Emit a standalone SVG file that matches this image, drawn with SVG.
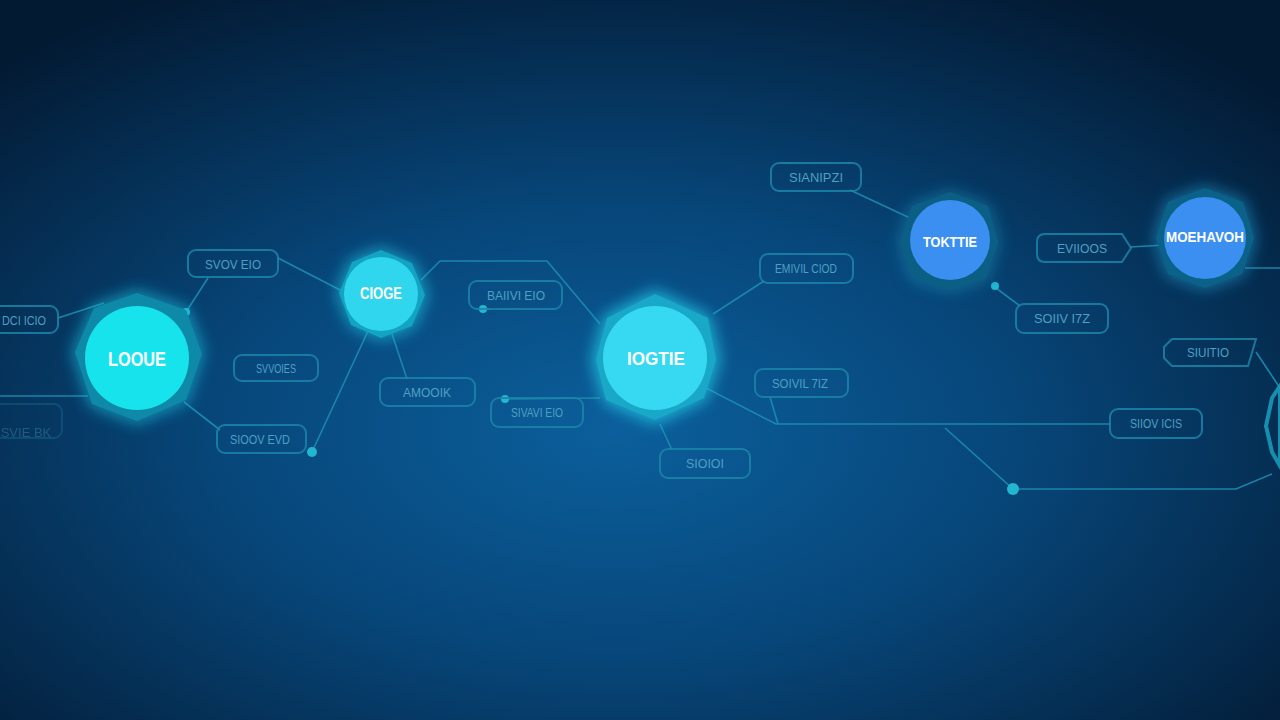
<svg xmlns="http://www.w3.org/2000/svg" width="1280" height="720" viewBox="0 0 1280 720">
<defs>
<radialGradient id="bg" cx="0.48" cy="0.6" r="0.7">
<stop offset="0" stop-color="#0b5f9c"/>
<stop offset="0.45" stop-color="#074679"/>
<stop offset="1" stop-color="#031a33"/>
</radialGradient>
<filter id="glow" x="-50%" y="-50%" width="200%" height="200%">
<feGaussianBlur stdDeviation="8"/>
</filter>
<filter id="soft" x="-20%" y="-20%" width="140%" height="140%">
<feGaussianBlur stdDeviation="1.5"/>
</filter>
<style>
.lbl rect, .lbl path{fill:none;stroke:#1b85a8;stroke-width:2;opacity:.85}
.lbl text{font-family:"Liberation Sans",Arial,sans-serif;font-size:13px;fill:#4f9fc2;text-anchor:middle;dominant-baseline:central}
.con{fill:none;stroke:#1d8db0;stroke-width:1.6;opacity:.9}
.dot{fill:#22b6d2}
.ntext{font-family:"Liberation Sans",Arial,sans-serif;font-weight:bold;fill:#ffffff;text-anchor:middle;dominant-baseline:central}
</style>
</defs>
<rect width="1280" height="720" fill="url(#bg)"/>

<g id="connectors">
<path class="con" d="M58 318 L104 303"/>
<path class="con" d="M0 396 L88 396"/>
<path class="con" d="M186 312 L208 278"/>
<path class="con" d="M278 258 L342 291"/>
<path class="con" d="M184 402 L220 430"/>
<path class="con" d="M312 452 L368 331"/>
<path class="con" d="M392 334 L407 379"/>
<path class="con" d="M421 280 L440 261 L547 261 L600 324"/>
<path class="con" d="M483 309 L490 309"/>
<path class="con" d="M505 399 L600 398"/>
<path class="con" d="M713 314 L764 281"/>
<path class="con" d="M706 388 L776 424 L1110 424"/>
<path class="con" d="M770 397 L778 424"/>
<path class="con" d="M660 424 L672 450"/>
<path class="con" d="M945 428 L1013 489 L1236 489 L1272 474"/>
<path class="con" d="M850 190 L910 218"/>
<path class="con" d="M992 285 L1020 306"/>
<path class="con" d="M1130 247 L1165 245"/>
<path class="con" d="M1245 268 L1280 268"/>
<path class="con" d="M1256 352 L1280 388"/>
<circle class="dot" cx="186" cy="312" r="4"/>
<circle class="dot" cx="312" cy="452" r="5"/>
<circle class="dot" cx="483" cy="309" r="4"/>
<circle class="dot" cx="505" cy="399" r="4"/>
<circle class="dot" cx="995" cy="286" r="4"/>
<circle class="dot" cx="1013" cy="489" r="6"/>
</g>

<g id="label-left1" class="lbl"><rect x="-8" y="306" width="66" height="27" rx="8"/><text x="24" y="320" textLength="44" lengthAdjust="spacingAndGlyphs">DCI ICIO</text></g>
<g id="label-left2" class="lbl" opacity="0.35"><rect x="-6" y="404" width="68" height="34" rx="8"/><text x="26" y="432" font-size="10">SVIE BK</text></g>
<g id="label-svov" class="lbl"><rect x="188" y="250" width="90" height="27" rx="8"/><text x="233" y="264" textLength="56" lengthAdjust="spacingAndGlyphs">SVOV EIO</text></g>
<g id="label-svvoies" class="lbl"><rect x="234" y="355" width="84" height="26" rx="8"/><text x="276" y="368" textLength="40" lengthAdjust="spacingAndGlyphs">SVVOIES</text></g>
<g id="label-sioov" class="lbl"><rect x="217" y="425" width="89" height="28" rx="8"/><text x="260" y="439" textLength="60" lengthAdjust="spacingAndGlyphs">SIOOV EVD</text></g>
<g id="label-baiivi" class="lbl"><rect x="469" y="281" width="93" height="28" rx="8"/><text x="516" y="295" textLength="58" lengthAdjust="spacingAndGlyphs">BAIIVI EIO</text></g>
<g id="label-amooik" class="lbl"><rect x="380" y="378" width="95" height="28" rx="8"/><text x="427" y="392" textLength="48" lengthAdjust="spacingAndGlyphs">AMOOIK</text></g>
<g id="label-sivavi" class="lbl"><rect x="491" y="398" width="92" height="29" rx="8"/><text x="537" y="412" textLength="52" lengthAdjust="spacingAndGlyphs">SIVAVI EIO</text></g>
<g id="label-emivil" class="lbl"><rect x="760" y="254" width="93" height="29" rx="8"/><text x="806" y="268" textLength="62" lengthAdjust="spacingAndGlyphs">EMIVIL CIOD</text></g>
<g id="label-soivil" class="lbl"><rect x="755" y="369" width="93" height="28" rx="8"/><text x="800" y="383" textLength="56" lengthAdjust="spacingAndGlyphs">SOIVIL 7IZ</text></g>
<g id="label-sioioi" class="lbl"><rect x="660" y="449" width="90" height="29" rx="8"/><text x="705" y="463" textLength="38" lengthAdjust="spacingAndGlyphs">SIOIOI</text></g>
<g id="label-sianip" class="lbl"><rect x="771" y="163" width="90" height="28" rx="8"/><text x="816" y="177" textLength="54" lengthAdjust="spacingAndGlyphs">SIANIPZI</text></g>
<g id="label-eviioos" class="lbl"><path d="M1045 234 H1122 L1131 248 L1122 262 H1045 Q1037 262 1037 254 V242 Q1037 234 1045 234 Z"/><text x="1082" y="248" textLength="50" lengthAdjust="spacingAndGlyphs">EVIIOOS</text></g>
<g id="label-soiiv" class="lbl"><rect x="1016" y="304" width="92" height="29" rx="8"/><text x="1062" y="318" textLength="56" lengthAdjust="spacingAndGlyphs">SOIIV I7Z</text></g>
<g id="label-siuitio" class="lbl"><path d="M1172 339 H1256 L1248 366 H1172 L1164 358 V347 Z"/><text x="1208" y="352" textLength="42" lengthAdjust="spacingAndGlyphs">SIUITIO</text></g>
<g id="label-siiov" class="lbl"><rect x="1110" y="409" width="92" height="29" rx="8"/><text x="1156" y="423" textLength="52" lengthAdjust="spacingAndGlyphs">SIIOV ICIS</text></g>

<g id="node-looue">
<polygon points="137,290 188,308 204,352 188,402 137,424 90,406 72,352 92,306" fill="#18b8d8" filter="url(#glow)" opacity="0.7"/>
<polygon points="137,293 186,310 202,354 186,400 137,421 92,404 75,352 94,308" fill="#0e8aa8"/>
<circle cx="137" cy="358" r="52" fill="#17e3ec"/>
<text class="ntext" x="137" y="359" font-size="20" textLength="58" lengthAdjust="spacingAndGlyphs">LOOUE</text>
</g>

<g id="node-cioge">
<polygon points="381,248 414,262 428,295 414,328 381,340 350,326 336,293 350,260" fill="#1ec6e2" filter="url(#glow)" opacity="0.7"/>
<polygon points="381,250 412,263 425,295 412,326 381,338 351,325 339,293 352,262" fill="#12a4c2"/>
<circle cx="381" cy="294" r="37" fill="#2fd6ee"/>
<text class="ntext" x="381" y="293" font-size="17" textLength="42" lengthAdjust="spacingAndGlyphs">CIOGE</text>
</g>

<g id="node-iogtie">
<polygon points="655,290 710,316 720,360 706,400 655,424 604,402 592,360 604,316" fill="#22cdea" filter="url(#glow)" opacity="0.8"/>
<polygon points="655,294 708,318 716,360 704,398 655,420 606,400 596,360 607,318" fill="#19a8c8"/>
<circle cx="655" cy="358" r="52" fill="#36d9f1"/>
<text class="ntext" x="656" y="359" font-size="18" textLength="58" lengthAdjust="spacingAndGlyphs">IOGTIE</text>
</g>

<g id="node-tokttie">
<polygon points="950,190 990,205 1000,242 988,280 950,292 910,280 898,242 910,205" fill="#1586b0" filter="url(#glow)" opacity="0.6"/>
<polygon points="950,192 988,206 998,242 986,278 950,290 912,278 900,242 912,206" fill="#0b5f85"/>
<circle cx="950" cy="240" r="40" fill="#3b8ff0"/>
<text class="ntext" x="950" y="241" font-size="15" textLength="54" lengthAdjust="spacingAndGlyphs">TOKTTIE</text>
</g>

<g id="node-moehavoh">
<polygon points="1205,186 1245,200 1256,238 1244,276 1205,290 1166,276 1154,238 1166,200" fill="#1a8cc0" filter="url(#glow)" opacity="0.7"/>
<polygon points="1205,188 1243,202 1254,238 1242,274 1205,288 1168,274 1156,238 1168,202" fill="#0b6288"/>
<circle cx="1205" cy="238" r="41" fill="#3a8ff0"/>
<text class="ntext" x="1205" y="237" font-size="14" textLength="78" lengthAdjust="spacingAndGlyphs">MOEHAVOH</text>
</g>

<g id="node-edge">
<polygon points="1280,386 1272,398 1266,426 1272,452 1280,466" fill="none" stroke="#1aa0c0" stroke-width="4" opacity="0.85"/>
</g>
</svg>
